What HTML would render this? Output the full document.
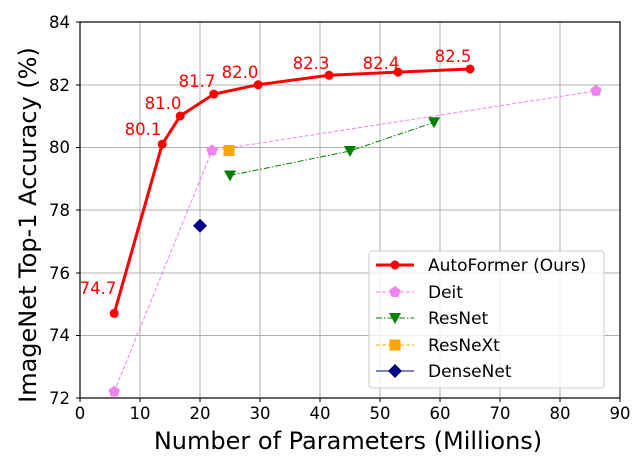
<!DOCTYPE html><html><head><style>body{margin:0;background:#fff}svg{display:block}text{font-family:"DejaVu Sans","Liberation Sans",sans-serif}</style></head><body>
<svg width="641" height="474" viewBox="0 0 641 474">
<defs>
<g id="pent"><polygon points="0,-6 5.7,-1.9 3.5,4.9 -3.5,4.9 -5.7,-1.9" fill="#ee82ee"/></g>
<g id="tri"><polygon points="-6,-5 6,-5 0,6" fill="#008000"/></g>
<g id="sq"><rect x="-5.5" y="-5.5" width="11" height="11" fill="#ffa500"/></g>
<g id="dia"><polygon points="0,-7 7,0 0,7 -7,0" fill="#00008b"/></g>
</defs>
<g stroke="#b0b0b0" stroke-width="1">
<line x1="140" y1="22" x2="140" y2="398"/><line x1="200" y1="22" x2="200" y2="398"/><line x1="260" y1="22" x2="260" y2="398"/><line x1="320" y1="22" x2="320" y2="398"/><line x1="380" y1="22" x2="380" y2="398"/><line x1="440" y1="22" x2="440" y2="398"/><line x1="500" y1="22" x2="500" y2="398"/><line x1="560" y1="22" x2="560" y2="398"/>
<line x1="80" y1="85" x2="620" y2="85"/><line x1="80" y1="147.5" x2="620" y2="147.5"/><line x1="80" y1="210" x2="620" y2="210"/><line x1="80" y1="273" x2="620" y2="273"/><line x1="80" y1="335.5" x2="620" y2="335.5"/>
</g>
<rect x="80" y="22" width="540" height="376" fill="none" stroke="#000" stroke-width="1.2"/>
<g stroke="#000"><line x1="80" y1="398" x2="80" y2="402"/><line x1="140" y1="398" x2="140" y2="402"/><line x1="200" y1="398" x2="200" y2="402"/><line x1="260" y1="398" x2="260" y2="402"/><line x1="320" y1="398" x2="320" y2="402"/><line x1="380" y1="398" x2="380" y2="402"/><line x1="440" y1="398" x2="440" y2="402"/><line x1="500" y1="398" x2="500" y2="402"/><line x1="560" y1="398" x2="560" y2="402"/><line x1="620" y1="398" x2="620" y2="402"/>
<line x1="76" y1="22" x2="80" y2="22"/><line x1="76" y1="85" x2="80" y2="85"/><line x1="76" y1="147.5" x2="80" y2="147.5"/><line x1="76" y1="210" x2="80" y2="210"/><line x1="76" y1="273" x2="80" y2="273"/><line x1="76" y1="335.5" x2="80" y2="335.5"/><line x1="76" y1="398" x2="80" y2="398"/></g>
<g font-size="16.5" text-anchor="middle"><text x="80" y="419">0</text><text x="140" y="419">10</text><text x="200" y="419">20</text><text x="260" y="419">30</text><text x="320" y="419">40</text><text x="380" y="419">50</text><text x="440" y="419">60</text><text x="500" y="419">70</text><text x="560" y="419">80</text><text x="620" y="419">90</text></g>
<g font-size="16.5" text-anchor="end"><text x="70" y="28">84</text><text x="70" y="91">82</text><text x="70" y="153">80</text><text x="70" y="216">78</text><text x="70" y="279">76</text><text x="70" y="341">74</text><text x="70" y="404">72</text></g>
<text x="348" y="449" font-size="24" text-anchor="middle">Number of Parameters (Millions)</text>
<text transform="translate(36,225) rotate(-90)" font-size="24" text-anchor="middle">ImageNet Top-1 Accuracy (%)</text>
<polyline points="114.2,391.7 212,150.5 596,90.9" fill="none" stroke="#ee82ee" stroke-width="1" stroke-dasharray="4,2"/>
<use href="#pent" x="114.2" y="391.7"/><use href="#pent" x="212" y="150.5"/><use href="#pent" x="596" y="90.9"/>
<polyline points="230,175.5 350,151 434,122.3" fill="none" stroke="#008000" stroke-width="1" stroke-dasharray="6,2,1.5,2"/>
<use href="#tri" x="230" y="175.5"/><use href="#tri" x="350" y="151"/><use href="#tri" x="434" y="122.3"/>
<use href="#sq" x="229" y="150.5"/>
<use href="#dia" x="200" y="225.7"/>
<polyline points="114.2,313.4 162.2,144.2 180.2,116 213.8,94.1 258.2,84.7 329,75.3 398,72.1 470,69" fill="none" stroke="#ff0000" stroke-width="3"/>
<g fill="#ff0000"><circle cx="114.2" cy="313.4" r="4.5"/><circle cx="162.2" cy="144.2" r="4.5"/><circle cx="180.2" cy="116" r="4.5"/><circle cx="213.8" cy="94.1" r="4.5"/><circle cx="258.2" cy="84.7" r="4.5"/><circle cx="329" cy="75.3" r="4.5"/><circle cx="398" cy="72.1" r="4.5"/><circle cx="470" cy="69" r="4.5"/></g>
<g fill="#ff0000" font-size="16.5" text-anchor="middle"><text x="98" y="294">74.7</text><text x="143" y="135">80.1</text><text x="163" y="109">81.0</text><text x="197" y="87">81.7</text><text x="240" y="78">82.0</text><text x="311" y="69">82.3</text><text x="381" y="69">82.4</text><text x="453" y="62">82.5</text></g>
<rect x="369" y="251" width="235" height="137" rx="3" fill="#fff" fill-opacity="0.8" stroke="#ccc"/>
<line x1="376" y1="265" x2="414" y2="265" stroke="#ff0000" stroke-width="3"/><circle cx="395" cy="265" r="4.5" fill="#ff0000"/>
<line x1="376" y1="292" x2="414" y2="292" stroke="#ee82ee" stroke-dasharray="4,2"/><use href="#pent" x="395" y="292"/>
<line x1="376" y1="318" x2="414" y2="318" stroke="#008000" stroke-dasharray="6,2,1.5,2"/><use href="#tri" x="395" y="318"/>
<line x1="376" y1="345" x2="414" y2="345" stroke="#ffa500" stroke-dasharray="4,2"/><use href="#sq" x="395" y="345"/>
<line x1="376" y1="371" x2="414" y2="371" stroke="#00008b"/><use href="#dia" x="395" y="371"/>
<g font-size="17"><text x="428" y="271">AutoFormer (Ours)</text><text x="428" y="298">Deit</text><text x="428" y="324">ResNet</text><text x="428" y="351">ResNeXt</text><text x="428" y="377">DenseNet</text></g>
</svg></body></html>
